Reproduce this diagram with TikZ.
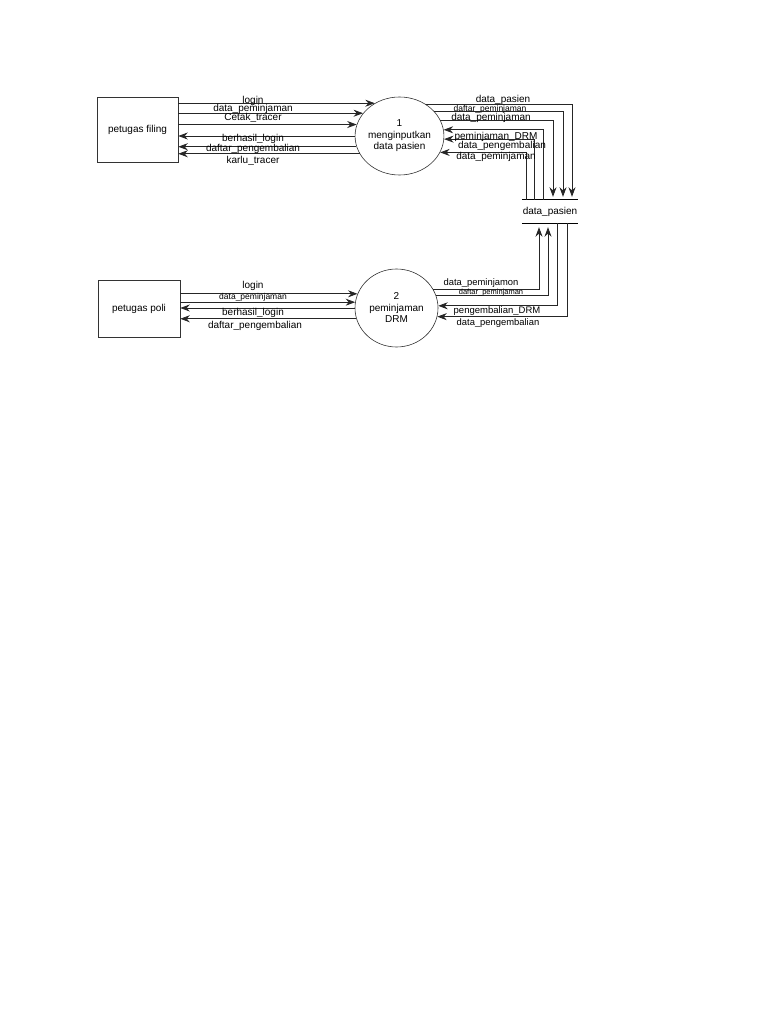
\documentclass[tikz,border=0pt]{standalone}
\usepackage{fontspec}
\setmainfont{Liberation Sans}
\usetikzlibrary{arrows.meta,shapes.geometric}
\tikzset{
  entity/.style={rectangle,draw=black!80,line width=0.6pt,inner sep=0pt,
    font=\fontsize{10}{12}\selectfont},
  proc/.style={ellipse,draw=black!80,line width=0.6pt,inner sep=0pt,
    minimum width=85pt,minimum height=78pt,align=center,
    font=\fontsize{10}{11.5}\selectfont},
  store/.style={inner sep=0pt,minimum width=56pt,minimum height=23pt,
    font=\fontsize{10}{12}\selectfont},
  flow/.style={draw=black!85,line width=0.8pt,-{Stealth[length=9.5pt,width=7pt]}},
  lbl/.style={inner sep=0pt,font=\fontsize{10}{12}\selectfont},
  lblsmall/.style={inner sep=0pt,font=\fontsize{8.5}{10}\selectfont}
}
\begin{document}
\begin{tikzpicture}[x=1pt,y=-1pt]
                \useasboundingbox (0,0) rectangle (768,1024);
                % entities, processes and the data store
                \node[entity,minimum width=81pt,minimum height=65pt] (filing) at(137.5,129.5){petugas filing};
                \node[entity,minimum width=82pt,minimum height=57pt] (poli) at(139,308.5){petugas poli};
                \node[proc] (p1) at(399.5,136){1\\menginputkan\\data pasien};
                \node[proc,minimum width=83pt] (p2) at(396.5,308){2\\peminjaman\\DRM};
                \node[store] (ds) at(550,211.5){data\_pasien};
                \draw[line width=0.6pt] (ds.north west) -- (ds.north east);
                \draw[line width=0.6pt] (ds.south west) -- (ds.south east);
                % petugas filing <-> proses 1
                \draw[flow] (filing.east |- p1.127) -- (p1.127);
                \draw[flow] (filing.east |- p1.148) -- (p1.148);
                \draw[flow] (filing.east |- p1.165) -- (p1.165);
                \draw[flow] (p1.180) -- (filing.east |- p1.180);
                \draw[flow] (p1.194) -- (filing.east |- p1.194);
                \draw[flow] (p1.204) -- (filing.east |- p1.204);
                \node[lbl] (t1) at(253,101){login};
                \node[lbl] (t2) at(253,109){data\_peminjaman};
                \node[lbl] (t3) at(253,118){Cetak\_tracer};
                \node[lbl] (t4) at(253,139){berhasil\_login};
                \node[lbl] (t5) at(253,149){daftar\_pengembalian};
                \node[lbl] (t6) at(253,161){karlu\_tracer};
                % proses 1 <-> data_pasien
                \draw[flow] (p1.50) -| ([xshift=22pt,yshift=3pt]ds.north);
                \draw[flow] (p1.36) -| ([xshift=13pt,yshift=3pt]ds.north);
                \draw[flow] (p1.21) -| ([xshift=3pt,yshift=3pt]ds.north);
                \draw[flow] ([xshift=-7pt]ds.north) |- (p1.8);
                \draw[flow] ([xshift=-16pt]ds.north) |- (p1.356);
                \draw[flow] ([xshift=-24pt]ds.north) |- (p1.338);
                \node[lbl] (t7) at(503,100){data\_pasien};
                \node[lblsmall] (t8) at(490,109){daftar\_peminjaman};
                \node[lbl] (t9) at(491,118){data\_peminjaman};
                \node[lbl] (t10) at(496,137){peminjaman\_DRM};
                \node[lbl] (t11) at(502,146){data\_pengembalian};
                \node[lbl] (t12) at(496,157){data\_peminjaman};
                % petugas poli <-> proses 2
                \draw[flow] (poli.east |- p2.160) -- (p2.160);
                \draw[flow] (poli.east |- p2.172) -- (p2.172);
                \draw[flow] (p2.180) -- (poli.east |- p2.180);
                \draw[flow] (p2.195) -- (poli.east |- p2.195);
                \node[lbl] (t13) at(253,286){login};
                \node[lblsmall] (t14) at(253,297){data\_peminjaman};
                \node[lbl] (t15) at(253,313){berhasil\_login};
                \node[lbl] (t16) at(255,326){daftar\_pengembalian};
                % proses 2 <-> data_pasien
                \draw[flow] (p2.27) -| ([xshift=-11pt,yshift=-4pt]ds.south);
                \draw[flow] (p2.17) -| ([xshift=-2pt,yshift=-4pt]ds.south);
                \draw[flow] ([xshift=7pt]ds.south) |- (p2.3);
                \draw[flow] ([xshift=17pt]ds.south) |- (p2.348);
                \node[lbl,font=\fontsize{9.4}{11}\selectfont] (t17) at(481,283){data\_peminjamon};
                \node[lbl,font=\fontsize{7.5}{9}\selectfont] (t18) at(491,293){daftar\_peminjaman};
                \node[lbl,font=\fontsize{9.5}{11}\selectfont] (t19) at(497,311){pengembalian\_DRM};
                \node[lbl,font=\fontsize{9.4}{11}\selectfont] (t20) at(498,323){data\_pengembalian};
            \end{tikzpicture}
\end{document}
